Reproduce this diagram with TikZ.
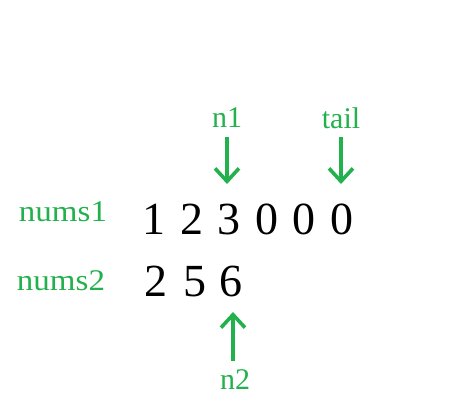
\documentclass[tikz,border=0pt]{standalone}
\usepackage{fontspec}
\setmainfont{Liberation Serif}
\usetikzlibrary{arrows.meta}
\definecolor{pgreen}{RGB}{34,177,76}
\begin{document}
\begin{tikzpicture}[x=1pt,y=-1pt,
  digit/.style={font=\fontsize{46}{46}\selectfont, text=black, inner sep=0pt, anchor=base},
  lbl/.style={font=\fontsize{30}{30}\selectfont, text=pgreen, inner sep=0pt},
  ptr/.style={draw=pgreen, line width=3.6pt, -{Straight Barb[length=13pt,width=24pt]}}]
\useasboundingbox (0,0) rectangle (474,412);
% row 1
\node[digit] (a1) at (154,234) {1};
\node[digit] (a2) at (192,234) {2};
\node[digit] (a3) at (229,234) {3};
\node[digit] (a4) at (267,234) {0};
\node[digit] (a5) at (304,234) {0};
\node[digit] (a6) at (342,234) {0};
% row 2
\node[digit] (b1) at (156,296) {2};
\node[digit] (b2) at (195,296) {5};
\node[digit] (b3) at (231,296) {6};
% labels
\node[lbl, xscale=1.1] (l1) at (63,212) {nums1};
\node[lbl, xscale=1.1] (l2) at (61,281) {nums2};
\node[lbl] (n1) at (227,118) {n1};
\node[lbl] (tail) at (341,118) {tail};
\node[lbl] (n2) at (235,380) {n2};
% pointers
\coordinate (n1s) at (227,137);
\coordinate (n1e) at (227,184);
\coordinate (ts) at (341,137);
\coordinate (te) at (341,184);
\coordinate (n2s) at (233,361);
\coordinate (n2e) at (233,312);
\draw[ptr] (n1s) -- (n1e);
\draw[ptr] (ts) -- (te);
\draw[ptr] (n2s) -- (n2e);
\end{tikzpicture}
\end{document}
